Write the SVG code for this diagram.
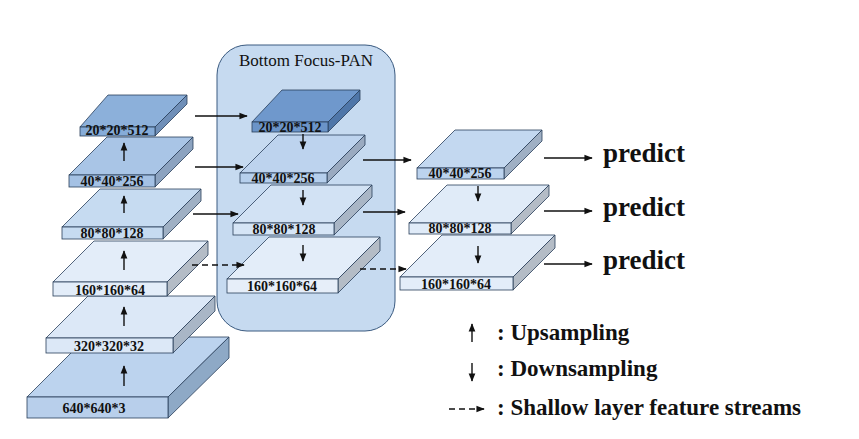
<svg xmlns="http://www.w3.org/2000/svg" width="859" height="439" viewBox="0 0 859 439">
<defs>
<marker id="ah" viewBox="0 0 10 10" refX="9" refY="5" markerWidth="6" markerHeight="6" orient="auto-start-reverse"><path d="M0,1 L10,5 L0,9 z" fill="#111"/></marker>
<style>
.s{stroke:#2a3f5a;stroke-width:0.8}
.lb{font-family:"Liberation Serif",serif;font-weight:bold;font-size:14px;fill:#111;text-anchor:middle}
.c{stroke:#111;stroke-width:1.4;fill:none;marker-end:url(#ah)}
.d{stroke-dasharray:6,4}
.big{font-family:"Liberation Serif",serif;font-weight:bold;fill:#111}
</style>
</defs>
<rect width="859" height="439" fill="#fff"/>
<g id="panel"><rect x="217" y="45" width="178" height="286" rx="30" fill="#c6daf0" stroke="#3a5a80" stroke-width="1"/>
<text x="306" y="66" font-family="Liberation Serif,serif" font-size="17" text-anchor="middle" fill="#111">Bottom Focus-PAN</text></g>

<g id="L640"><polygon class="s" fill="#bcd3ee" points="27,397 87,337 229,337 168,397"/><polygon class="s" fill="#8ea9c6" points="168,397 229,337 229,358 168,418"/><rect class="s" fill="#b8cfeb" x="27" y="397" width="141" height="21"/><text class="lb" x="94" y="413">640*640*3</text></g>
<g id="L320"><polygon class="s" fill="#dce8f7" points="46,338 88,296 215,296 173,338"/><polygon class="s" fill="#a9b6c6" points="173,338 215,296 215,311 173,353"/><rect class="s" fill="#dce8f7" x="46" y="338" width="127" height="15"/><text class="lb" x="109" y="351">320*320*32</text></g>
<g id="L160"><polygon class="s" fill="#e3edf9" points="53,282 94,241 208,241 167,282"/><polygon class="s" fill="#b4bcc6" points="167,282 208,241 208,255 167,296"/><rect class="s" fill="#e3edf9" x="53" y="282" width="114" height="14"/><text class="lb" x="110" y="295">160*160*64</text></g>
<g id="L80"><polygon class="s" fill="#c6dbf1" points="62,227 100,189 201,189 163,227"/><polygon class="s" fill="#9fb0c4" points="163,227 201,189 201,201 163,239"/><rect class="s" fill="#c6dbf1" x="62" y="227" width="101" height="12"/><text class="lb" x="112" y="238">80*80*128</text></g>
<g id="L40"><polygon class="s" fill="#a9c5e6" points="69,175 107,137 193,137 155,175"/><polygon class="s" fill="#8ca3c0" points="155,175 193,137 193,149 155,187"/><rect class="s" fill="#a4c1e4" x="69" y="175" width="86" height="12"/><text class="lb" x="112" y="186">40*40*256</text></g>
<g id="L20"><polygon class="s" fill="#8cb0da" points="80,127 108,95 187,95 155,127"/><polygon class="s" fill="#6f8fb8" points="155,127 187,95 187,104 155,136"/><rect class="s" fill="#86acd8" x="80" y="127" width="75" height="9"/><text class="lb" x="117" y="135">20*20*512</text></g>

<g id="M160"><polygon class="s" fill="#e3edf9" points="227,279 269,237 380,237 338,279"/><polygon class="s" fill="#b4bcc6" points="338,279 380,237 380,251 338,293"/><rect class="s" fill="#e6eef9" x="227" y="279" width="111" height="14"/><text class="lb" x="282" y="291">160*160*64</text></g>
<g id="M80"><polygon class="s" fill="#d2e2f4" points="233,223 271,185 372,185 334,223"/><polygon class="s" fill="#a9b6c6" points="334,223 372,185 372,197 334,235"/><rect class="s" fill="#d6e5f6" x="233" y="223" width="101" height="12"/><text class="lb" x="284" y="234">80*80*128</text></g>
<g id="M40"><polygon class="s" fill="#bdd3ee" points="240,173 278,135 365,135 327,173"/><polygon class="s" fill="#9aaac0" points="327,173 365,135 365,145 327,183"/><rect class="s" fill="#b6cfec" x="240" y="173" width="87" height="10"/><text class="lb" x="283" y="183">40*40*256</text></g>
<g id="M20"><polygon class="s" fill="#6f98cc" points="252,122 282,90 360,90 328,122"/><polygon class="s" fill="#4f76a8" points="328,122 360,90 360,100 328,132"/><rect class="s" fill="#6b94c8" x="252" y="122" width="76" height="10"/><text class="lb" x="290" y="132">20*20*512</text></g>

<g id="R160"><polygon class="s" fill="#e3edf9" points="400,277 442,235 555,235 513,277"/><polygon class="s" fill="#b4bcc6" points="513,277 555,235 555,248 513,290"/><rect class="s" fill="#e3edf9" x="400" y="277" width="113" height="13"/><text class="lb" x="456" y="289">160*160*64</text></g>
<g id="R80"><polygon class="s" fill="#e0ebf8" points="409,223 447,185 549,185 511,223"/><polygon class="s" fill="#b4bcc6" points="511,223 549,185 549,196 511,234"/><rect class="s" fill="#e0ebf8" x="409" y="223" width="102" height="11"/><text class="lb" x="460" y="233">80*80*128</text></g>
<g id="R40"><polygon class="s" fill="#c3d8f0" points="417,168 455,130 542,130 504,168"/><polygon class="s" fill="#a0b0c4" points="504,168 542,130 542,141 504,179"/><rect class="s" fill="#bcd3ee" x="417" y="168" width="87" height="11"/><text class="lb" x="460" y="178">40*40*256</text></g>

<g id="connectors">
<line class="c" x1="195" y1="116" x2="247" y2="116"/>
<line class="c" x1="195" y1="167" x2="243" y2="167"/>
<line class="c" x1="193" y1="214" x2="238" y2="214"/>
<line class="c d" x1="192" y1="265" x2="244" y2="265"/>
<line class="c" x1="363" y1="160" x2="411" y2="160"/>
<line class="c" x1="363" y1="212" x2="405" y2="212"/>
<line class="c d" x1="360" y1="269" x2="406" y2="269"/>
<line class="c" x1="544" y1="158" x2="592" y2="158"/>
<line class="c" x1="544" y1="211" x2="592" y2="211"/>
<line class="c" x1="544" y1="264" x2="592" y2="264"/>
<line class="c" x1="124" y1="161" x2="124" y2="143"/>
<line class="c" x1="124" y1="213" x2="124" y2="196"/>
<line class="c" x1="124" y1="270" x2="124" y2="251"/>
<line class="c" x1="124" y1="326" x2="124" y2="307"/>
<line class="c" x1="124" y1="386" x2="124" y2="366"/>
<line class="c" x1="303" y1="134" x2="303" y2="149"/>
<line class="c" x1="303" y1="190" x2="303" y2="205"/>
<line class="c" x1="303" y1="245" x2="303" y2="261"/>
<line class="c" x1="478" y1="186" x2="478" y2="201"/>
<line class="c" x1="478" y1="246" x2="478" y2="263"/>
</g>

<g id="predict">
<text class="big" x="603" y="162" font-size="27">predict</text>
<text class="big" x="603" y="216" font-size="27">predict</text>
<text class="big" x="603" y="269" font-size="27">predict</text>
</g>

<g id="legend">
<line class="c" x1="472" y1="342" x2="472" y2="324"/>
<text class="big" x="497" y="340" font-size="23">: Upsampling</text>
<line class="c" x1="472" y1="363" x2="472" y2="381"/>
<text class="big" x="497" y="376" font-size="23">: Downsampling</text>
<line class="c d" x1="449" y1="409" x2="484" y2="409"/>
<text class="big" x="497" y="415" font-size="23">: Shallow layer feature streams</text>
</g>
</svg>
